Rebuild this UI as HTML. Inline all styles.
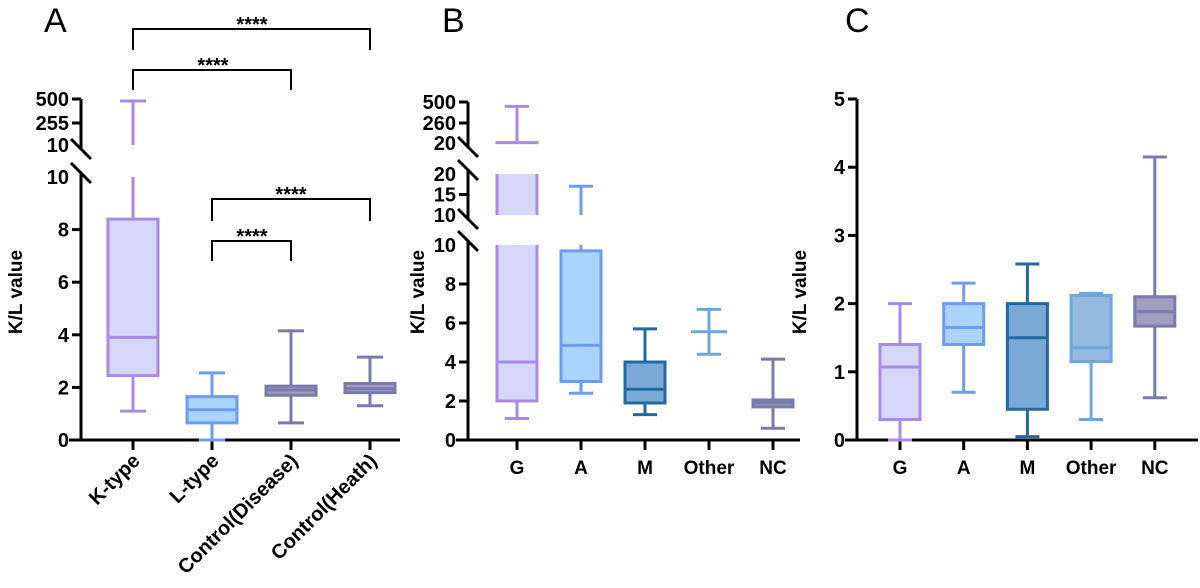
<!DOCTYPE html>
<html><head><meta charset="utf-8"><style>
html,body{margin:0;padding:0;background:#fff;}
svg{display:block;font-family:"Liberation Sans",Arial,sans-serif;}
</style></head><body>
<svg id="chart" width="1200" height="588" viewBox="0 0 1200 588">
<text x="44" y="32" font-size="34">A</text>
<text x="442" y="32" font-size="34">B</text>
<text x="845" y="32" font-size="34">C</text>
</svg>
<script>
// Panel A data
const catsA = ['K-type','L-type','Control(Disease)','Control(Heath)'];
const minA = [1.1, 0, 0.65, 1.3];
const q1A = [2.45, 0.65, 1.7, 1.8];
const medA = [3.9, 1.15, 1.9, 1.95];
const q3A = [8.4, 1.65, 2.05, 2.15];
const maxA = [480, 2.55, 4.15, 3.15];
// Panel B data
const catsB = ['G','A','M','Other','NC'];
const minB = [1.1, 2.4, 1.3, 4.4, 0.6];
const q1B = [2.0, 3.0, 1.9, 5.55, 1.7];
const medB = [4.0, 4.85, 2.6, 5.55, 1.9];
const q3B = [25, 9.7, 4.0, 5.55, 2.05];
const maxB = [450, 17, 5.7, 6.7, 4.15];
// Panel C data
const catsC = ['G','A','M','Other','NC'];
const minC = [0, 0.7, 0.05, 0.3, 0.62];
const q1C = [0.3, 1.4, 0.45, 1.15, 1.67];
const medC = [1.07, 1.65, 1.5, 1.35, 1.88];
const q3C = [1.4, 2.0, 2.0, 2.12, 2.1];
const maxC = [2.0, 2.3, 2.58, 2.15, 4.15];
// tick labels
const ticksA = [[0,2,4,6,8,10],[10,255,500]];
const ticksB = [[0,2,4,6,8,10],[10,15,20],[20,260,500]];
const ticksC = [0,1,2,3,4,5];

const NS='http://www.w3.org/2000/svg';
const svg=document.getElementById('chart');
function mk(tag,attrs,parent){const e=document.createElementNS(NS,tag);for(const k in attrs)e.setAttribute(k,attrs[k]);(parent||svg).appendChild(e);return e;}

const styles={
 purple:{s:'#a88be4',f:'#d7d6fb'},
 lblue:{s:'#6d9cf0',f:'#a9d4fd'},
 dblue:{s:'#2368a0',f:'#79aad6'},
 other:{s:'#6fa6dc',f:'#95b9de'},
 nc:{s:'#7a7aab',f:'#a19cc0'}
};

function segY(seg,v){const k=seg.knots;for(let i=0;i<k.length-1;i++){if(v<=k[i+1][0]||i==k.length-2){const t=(v-k[i][0])/(k[i+1][0]-k[i][0]);return k[i][1]+t*(k[i+1][1]-k[i][1]);}}}
function findSeg(segs,v){for(const s of segs){if(v>=s.knots[0][0]&&v<=s.knots[s.knots.length-1][0])return s;}return segs[segs.length-1];}
function Y(segs,v){return segY(findSeg(segs,v),v);}
function vline(segs,x,a,b,st,g){for(const s of segs){const lo=Math.max(a,s.knots[0][0]),hi=Math.min(b,s.knots[s.knots.length-1][0]);if(hi>lo){mk('line',{x1:x,x2:x,y1:segY(s,lo),y2:segY(s,hi),stroke:st,'stroke-width':3},g);}}}

function drawPanel(p){
 const g=mk('g',{});
 
 
 p.segs.forEach((s,i)=>{
  const y0=s.knots[0][1],y1=s.knots[s.knots.length-1][1];
  const yb = i==0? y0 : y0+4;
  const yt = i<p.segs.length-1 ? y1-4 : y1;
  const ax=mk('line',{x1:p.ax,x2:p.ax,y1:yb,y2:yt,stroke:'#000','stroke-width':3},g);
  
  
  if(i<p.segs.length-1){
   mk('line',{x1:p.ax-10,y1:y1-14,x2:p.ax+10,y2:y1+6,stroke:'#000','stroke-width':3},g);
  }
  if(i>0){
   mk('line',{x1:p.ax-10,y1:y0-6,x2:p.ax+10,y2:y0+14,stroke:'#000','stroke-width':3},g);
  }
  p.ticks[i].forEach((t,j)=>{
   const y=segY(s,t);
   const isBreak=(i>0&&j==0)||(i<p.segs.length-1&&j==p.ticks[i].length-1);
   if(!isBreak) mk('line',{x1:p.ax-9,x2:p.ax,y1:y,y2:y,stroke:'#000','stroke-width':3},g);
   const tx=mk('text',{x:p.ax-12,y:y+7,'font-size':20,'font-weight':'bold','text-anchor':'end'},g);
   tx.textContent=t;
   
   
  });
 });
 const xa=mk('line',{x1:p.ax-12,x2:p.xend,y1:440,y2:440,stroke:'#000','stroke-width':3},g);
 
 
 const yl=mk('text',{x:0,y:0,'font-size':19,'font-weight':'bold','text-anchor':'middle',transform:`translate(${p.ylx},${p.yly}) rotate(-90)`},g);
 yl.textContent='K/L value';
 
 
 p.cats.forEach((c,i)=>{
  const x=p.x0+i*p.dx;
  mk('line',{x1:x,x2:x,y1:440,y2:450,stroke:'#000','stroke-width':3},g);
  let t;
  if(p.rot){t=mk('text',{x:0,y:0,'font-size':20,'font-weight':'bold','text-anchor':'end',transform:`translate(${x+8},${462}) rotate(-45)`},g);}
  else{t=mk('text',{x:x,y:474,'font-size':19,'font-weight':'bold','text-anchor':'middle'},g);}
  t.textContent=c;
  
  
  const st=styles[p.col[i]];
  const bg=mk('g',{},g);
  
  
  const w=p.bw,h=p.bw/2,cw=p.cw/2;
  const mn=p.mn[i],a=p.q1[i],m=p.md[i],b=p.q3[i],mx=p.mx[i];
  vline(p.segs,x,mn,a,st.s,bg);
  vline(p.segs,x,b,mx,st.s,bg);
  mk('line',{x1:x-cw,x2:x+cw,y1:Y(p.segs,mn),y2:Y(p.segs,mn),stroke:st.s,'stroke-width':3},bg);
  mk('line',{x1:x-cw,x2:x+cw,y1:Y(p.segs,mx),y2:Y(p.segs,mx),stroke:st.s,'stroke-width':3},bg);
  if(b>a){
   for(const s of p.segs){const lo=Math.max(a,s.knots[0][0]),hi=Math.min(b,s.knots[s.knots.length-1][0]);
    if(hi>lo){const yl2=segY(s,lo),yh=segY(s,hi);
     mk('rect',{x:x-h,y:yh,width:w,height:yl2-yh,fill:st.f},bg);
     mk('line',{x1:x-h,x2:x-h,y1:yl2,y2:yh,stroke:st.s,'stroke-width':3},bg);
     mk('line',{x1:x+h,x2:x+h,y1:yl2,y2:yh,stroke:st.s,'stroke-width':3},bg);}}
   mk('line',{x1:x-h-1.5,x2:x+h+1.5,y1:Y(p.segs,a),y2:Y(p.segs,a),stroke:st.s,'stroke-width':3},bg);
   mk('line',{x1:x-h-1.5,x2:x+h+1.5,y1:Y(p.segs,b),y2:Y(p.segs,b),stroke:st.s,'stroke-width':3},bg);
   mk('line',{x1:x-h,x2:x+h,y1:Y(p.segs,m),y2:Y(p.segs,m),stroke:st.s,'stroke-width':3},bg);
  } else {
   mk('line',{x1:x-cw-6,x2:x+cw+6,y1:Y(p.segs,m),y2:Y(p.segs,m),stroke:st.s,'stroke-width':3},bg);
  }
 });
}

drawPanel({name:'panel-a',ax:81,xend:400,x0:133,dx:79,bw:50,cw:26,rot:true,ylx:22,yly:292,
 segs:[{knots:[[0,440],[10,177]]},{knots:[[10,145],[255,123],[500,99]]}],ticks:ticksA,
 cats:catsA,mn:minA,q1:q1A,md:medA,q3:q3A,mx:maxA,col:['purple','lblue','nc','nc']});
drawPanel({name:'panel-b',ax:468,xend:800,x0:517,dx:64,bw:40,cw:24,rot:false,ylx:424,yly:292,
 segs:[{knots:[[0,440],[10,245]]},{knots:[[10,215],[20,174]]},{knots:[[20,143],[260,123],[500,102]]}],ticks:ticksB,
 cats:catsB,mn:minB,q1:q1B,md:medB,q3:q3B,mx:maxB,col:['purple','lblue','dblue','other','nc']});
drawPanel({name:'panel-c',ax:857,xend:1198,x0:900,dx:63.7,bw:40,cw:24,rot:false,ylx:806,yly:292,
 segs:[{knots:[[0,440],[5,99]]}],ticks:[ticksC],
 cats:catsC,mn:minC,q1:q1C,md:medC,q3:q3C,mx:maxC,col:['purple','lblue','dblue','other','nc']});

const brackets=[[133,370,29,50,252,23],[133,291,70,90,213,64],[212,370,199,221,291,193],[212,291,241,261,252,235]];
brackets.forEach(b=>{
 const g=mk('g',{});
 
 
 mk('polyline',{points:`${b[0]},${b[3]} ${b[0]},${b[2]} ${b[1]},${b[2]} ${b[1]},${b[3]}`,fill:'none',stroke:'#000','stroke-width':2},g);
 const t=mk('text',{x:b[4],y:b[5]+8,'font-size':20,'font-weight':'bold','text-anchor':'middle'},g);
 t.textContent='****';
 
 
});
</script>
</body></html>
